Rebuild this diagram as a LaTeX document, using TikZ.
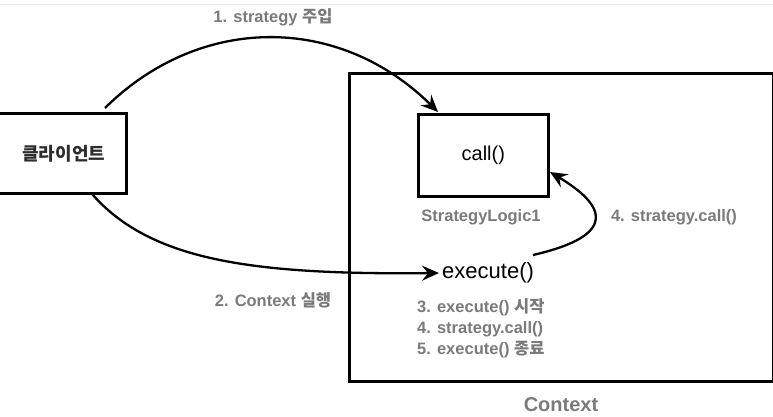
\documentclass[tikz,border=0pt]{standalone}
\usepackage{fontspec}
\setmainfont{Liberation Sans}
\newfontfamily\kr{Noto Sans CJK KR}
\usetikzlibrary{arrows.meta}
\definecolor{lbl}{RGB}{122,122,122}
\definecolor{dark}{RGB}{45,45,45}
\tikzset{
  box/.style={draw=black, line width=2.6pt, inner sep=0pt},
  graylbl/.style={text=lbl, font=\fontsize{16.5}{19}\selectfont\bfseries, inner sep=0pt},
  conn/.style={draw=black, line width=2.3pt, -{Stealth[length=17pt,width=15pt,inset=6pt]}},
}
\begin{document}
\begin{tikzpicture}[x=1pt,y=-1pt]
\useasboundingbox (0,0) rectangle (773,417);
\draw[black!8, line width=1pt] (0,5) -- (773,5);
% context box
\node[box, minimum width=424pt, minimum height=308pt, anchor=north west] (ctx) at (348,72) {};
\node[text=lbl, font=\fontsize{20}{24}\selectfont\bfseries, inner sep=0pt] (ctxlbl) at (561,405) {Context};
% client
\node[box, minimum width=135pt, minimum height=80pt, anchor=north west, fill=white,
      font=\fontsize{18}{21}\selectfont\kr\bfseries, text=dark] (client) at (-10,112) {\hspace*{10pt}클라이언트};
% call box
\node[box, minimum width=130pt, minimum height=82pt, anchor=north west,
      font=\fontsize{20}{24}\selectfont] (call) at (417,113) {call()};
\node[graylbl] (sl) at (481,217) {StrategyLogic1};
\node[graylbl] (l4) at (674,217) {4. strategy.call()};
% execute
\node[font=\fontsize{22}{26}\selectfont, inner sep=0pt, anchor=west] (exec) at (442,273) {execute()};
\node[graylbl, anchor=west] (s3) at (417,307) {3. execute() {\kr 시작}};
\node[graylbl, anchor=west] (s4) at (417,329) {4. strategy.call()};
\node[graylbl, anchor=west] (s5) at (417,350) {5. execute() {\kr 종료}};
% labels
\node[graylbl] (l1) at (273,17) {1. strategy {\kr 주입}};
\node[graylbl] (l2) at (273,300) {2. Context {\kr 실행}};
% connector end points
\coordinate (a1s) at (105,108);
\coordinate (a1e) at (438,112);
\coordinate (a2s) at (92,194);
\coordinate (a2e) at (439,273);
\coordinate (a4s) at (533,255);
\coordinate (a4e) at (550,172);
\draw[conn] (a1s) .. controls (200,14) and (339,14) .. (a1e);
\draw[conn] (a2s) .. controls (150,260) and (250,275) .. (a2e);
\draw[conn] (a4s) .. controls (620,235) and (605,205) .. (a4e);
\end{tikzpicture}
\end{document}
